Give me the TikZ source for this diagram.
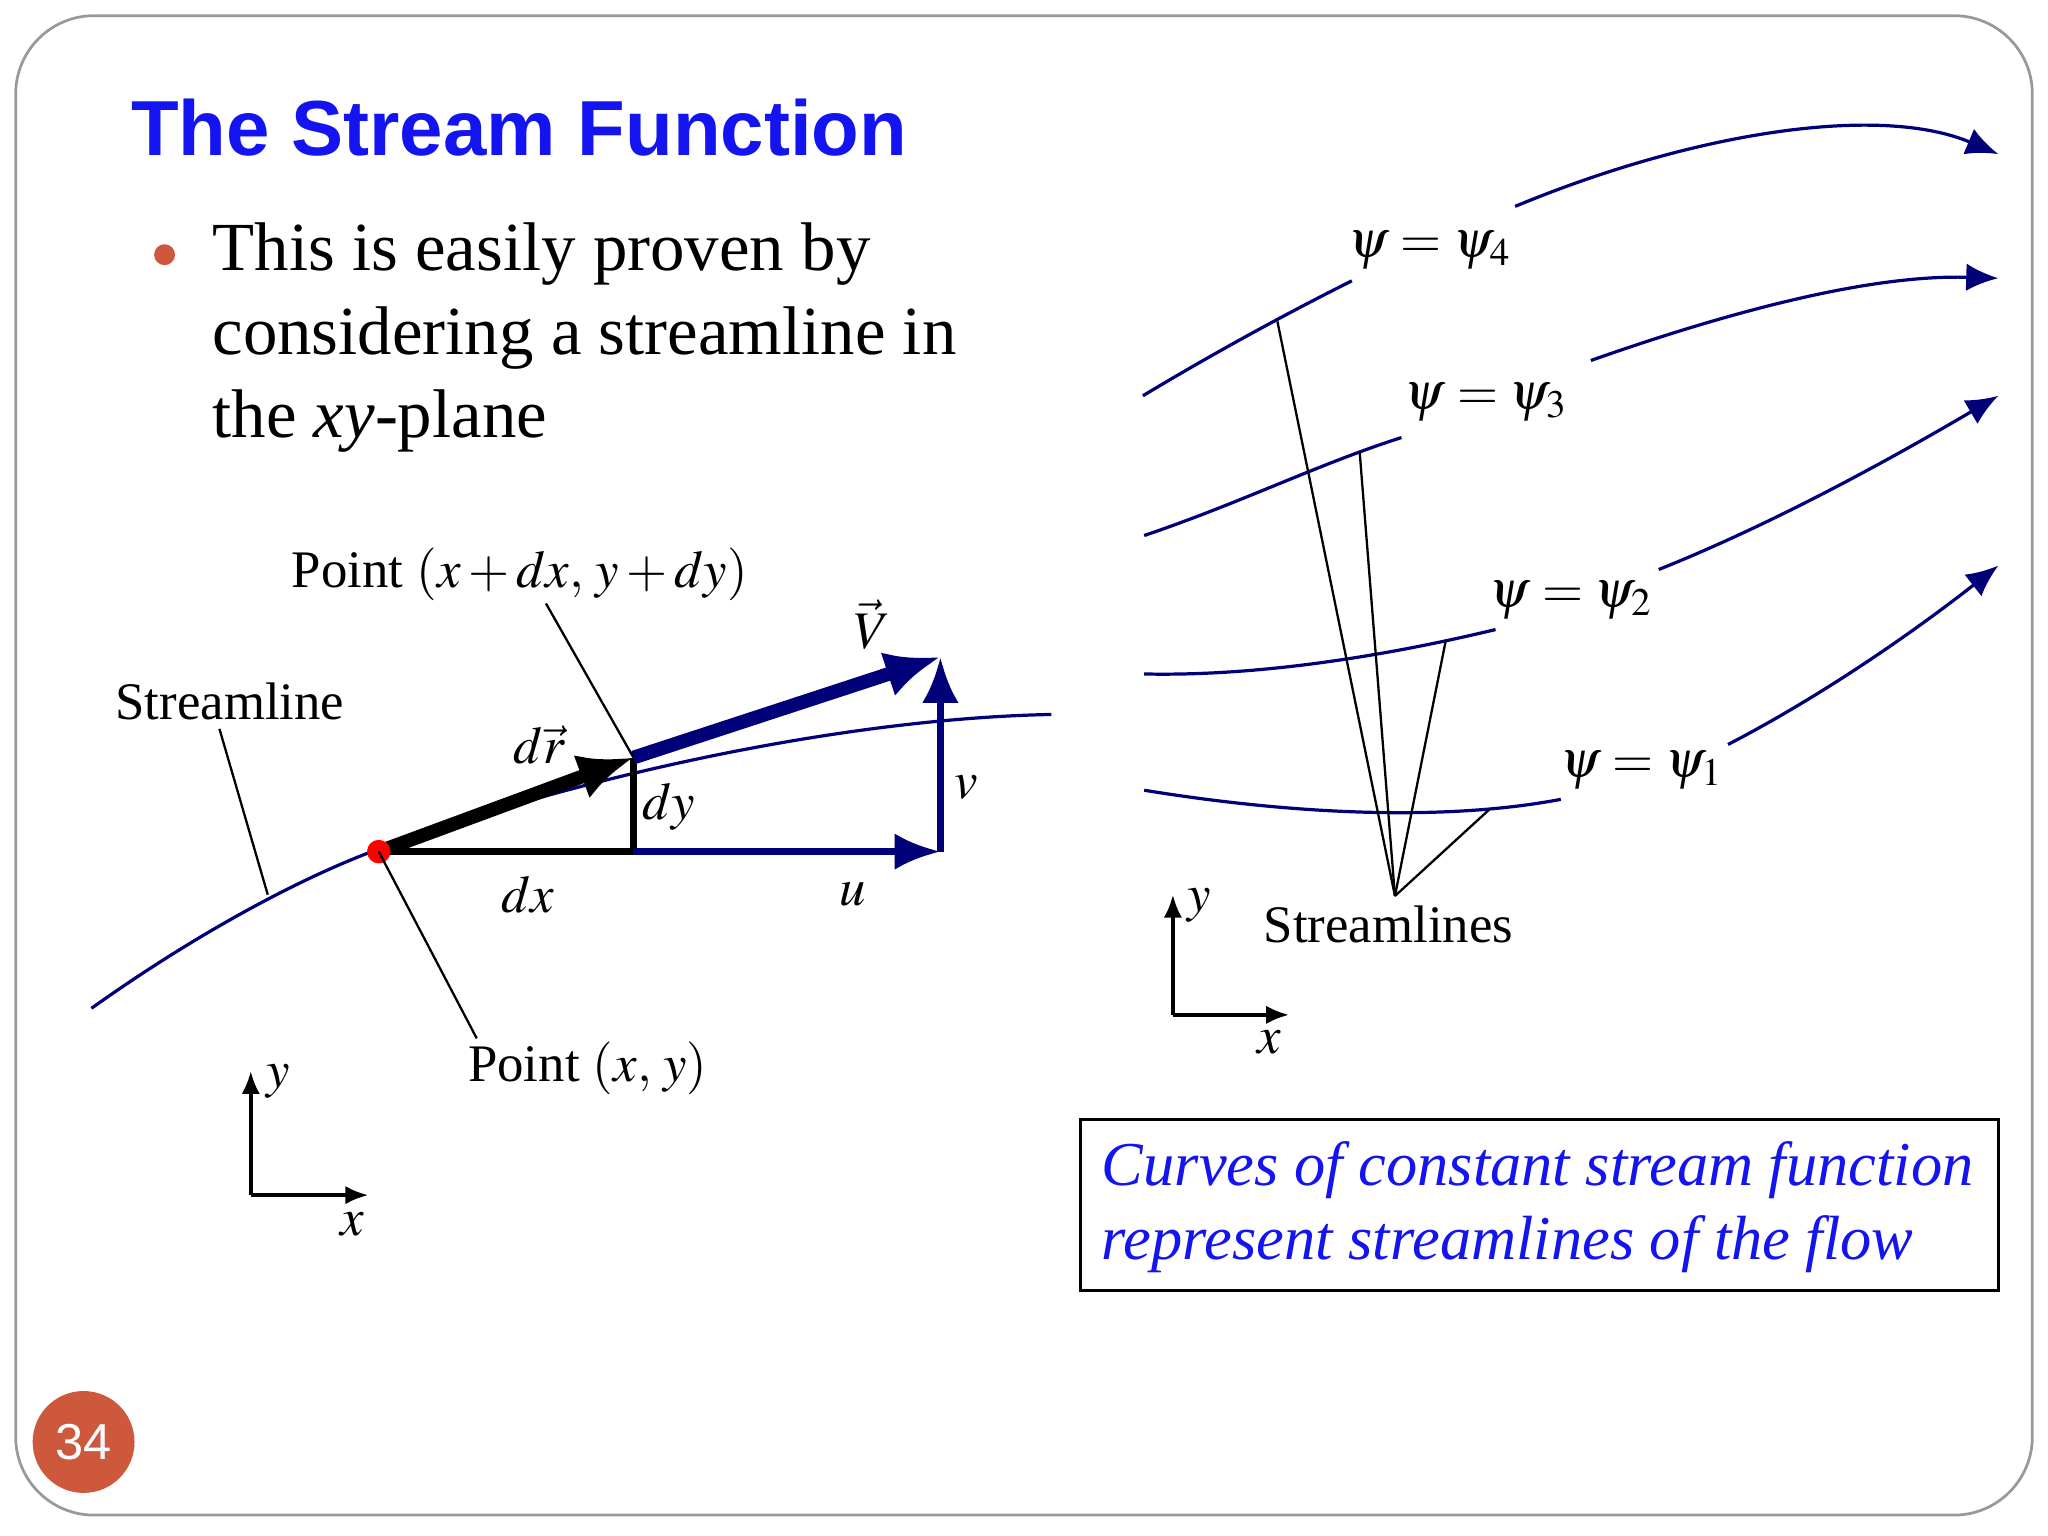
\documentclass[tikz,border=0pt]{standalone}
\usepackage{mathptmx}
\usepackage{fontspec}
\setmainfont{Liberation Serif}
\setsansfont{Liberation Sans}
\usetikzlibrary{arrows.meta}
\definecolor{navy}{RGB}{0,0,120}
\definecolor{titleblue}{RGB}{20,20,240}
\definecolor{dotred}{RGB}{205,88,60}
\tikzset{
	lbl/.style={inner sep=1pt, font=\fontsize{11.5}{13}\selectfont},
	psi/.style={lbl},
	flow/.style={navy, line width=0.7pt},
	flowarrow/.style={flow, -{Latex[length=7pt,width=6pt]}},
	leader/.style={black, line width=0.5pt},
	axis/.style={black, line width=0.8pt, -{Latex[length=5pt,width=4pt]}}
}
\begin{document}
\begin{tikzpicture}[x=0.1mm, y=-0.1mm, >=latex]
	\useasboundingbox (0,0) rectangle (1568,1176);
	\draw [gray!80, line width=0.6pt, rounded corners=6mm] (12,12) rectangle (1556,1160);

	% title and bullet
	\node [anchor=west, text=titleblue, font=\sffamily\bfseries\fontsize{17}{21}\selectfont] (title) at (88,98) {The Stream Function};
	\fill [dotred] (126,195) circle (8);
	\node [anchor=north west, align=left, inner sep=0pt, font=\fontsize{15}{18.2}\selectfont] (bullet) at (162,170)
		{This is easily proven by\\considering a streamline in\\the \textit{xy}-plane};

	% left: streamline
	\draw [flow] (70,772) .. controls (150,715) and (230,672) .. (290,650)
		.. controls (450,592) and (650,550) .. (805,547);
	\coordinate (P) at (290,652);
	\coordinate (Q) at (485,580);
	\coordinate (R) at (485,652);
	\coordinate (S) at (720,652);
	\coordinate (T) at (720,503);
	\draw [line width=1.6pt] (P) -- (R);
	\draw [line width=1.6pt] (R) -- (Q);
	\draw [navy, line width=1.6pt, -{Latex[length=10pt,width=8pt]}] (R) -- (S);
	\draw [navy, line width=1.6pt, -{Latex[length=10pt,width=8pt]}] (S) -- (T);
	\draw [navy, line width=3pt, -{Latex[length=12pt,width=10pt]}] (Q) -- (T);
	\draw [line width=3pt, -{Latex[length=12pt,width=10pt]}] (P) -- (Q);
	\fill [red] (P) circle (9);

	\node [lbl] (dr) at (413,570) {$d\vec r$};
	\node [lbl] (dy) at (512,618) {$dy$};
	\node [lbl] (v) at (740,603) {$v$};
	\node [lbl] (dx) at (404,685) {$dx$};
	\node [lbl] (u) at (653,685) {$u$};
	\node [lbl] (V) at (668,478) {$\vec V$};
	\node [lbl] (pt2) at (398,440) {Point $(x + dx,\, y + dy)$};
	\node [lbl] (sl) at (176,537) {Streamline};
	\node [lbl] (pt1) at (450,818) {Point $(x,\, y)$};
	\draw [leader] (418,462) -- (Q);
	\draw [leader] (168,558) -- (205,685);
	\draw [leader] (P) -- (365,795);

	\coordinate (O1) at (192,915);
	\draw [axis] (O1) -- (192,820);
	\draw [axis] (O1) -- (282,915);
	\node [lbl] (y1) at (213,828) {$y$};
	\node [lbl] (x1) at (270,937) {$x$};

	% right: streamlines
	\draw [flow] (875,303) .. controls (930,270) and (985,240) .. (1035,215);
	\draw [flowarrow] (1160,158) .. controls (1300,100) and (1440,80) .. (1530,118);
	\draw [flow] (876,410) .. controls (950,385) and (1010,355) .. (1073,335);
	\draw [flowarrow] (1218,276) .. controls (1320,240) and (1430,210) .. (1530,213);
	\draw [flow] (876,516) .. controls (970,518) and (1070,500) .. (1145,482);
	\draw [flowarrow] (1270,436) .. controls (1360,400) and (1450,350) .. (1530,303);
	\draw [flow] (876,605) .. controls (980,622) and (1100,630) .. (1195,612);
	\draw [flowarrow] (1323,570) .. controls (1400,530) and (1470,480) .. (1530,433);
	\node [psi] (p4) at (1095,192) {$\psi = \psi_4$};
	\node [psi] (p3) at (1138,308) {$\psi = \psi_3$};
	\node [psi] (p2) at (1203,460) {$\psi = \psi_2$};
	\node [psi] (p1) at (1257,590) {$\psi = \psi_1$};

	\coordinate (F) at (1068,686);
	\draw [leader] (F) -- (978,246);
	\draw [leader] (F) -- (1041,346);
	\draw [leader] (F) -- (1107,490);
	\draw [leader] (F) -- (1140,620);
	\node [lbl] (sls) at (1063,708) {Streamlines};

	\coordinate (O2) at (898,777);
	\draw [axis] (O2) -- (898,685);
	\draw [axis] (O2) -- (987,777);
	\node [lbl] (y2) at (918,693) {$y$};
	\node [lbl] (x2) at (972,798) {$x$};

	% caption box
	\draw [line width=0.6pt] (827,857) rectangle (1530,988);
	\node [anchor=north west, align=left, inner sep=0pt, text=titleblue, font=\itshape\fontsize{13.6}{16.2}\selectfont] (cap) at (843,873)
		{Curves of constant stream function\\represent streamlines of the flow};

	% page number
	\fill [dotred] (64,1104) circle (39);
	\node [text=white, font=\sffamily\fontsize{11}{13}\selectfont] (num) at (64,1104) {34};
\end{tikzpicture}
\end{document}
